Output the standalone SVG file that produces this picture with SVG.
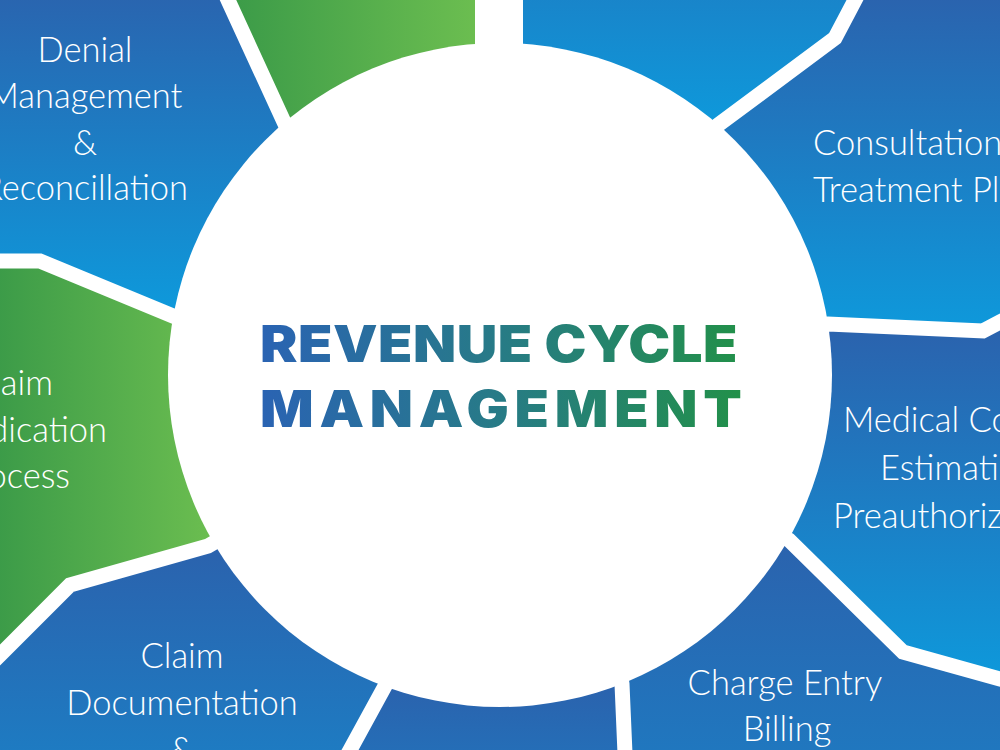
<svg xmlns="http://www.w3.org/2000/svg" width="1000" height="750" viewBox="0 0 1000 750">
<style>
.lbl{font-family:Lato,"Open Sans","Liberation Sans",sans-serif;font-weight:300;font-size:34.5px;fill:#ffffff}
.mid{text-anchor:middle}
.end{text-anchor:end}
.gap{fill:none;stroke:#ffffff;stroke-width:15;stroke-linejoin:miter}
.title{font-family:Inter,Roboto,Lato,"DejaVu Sans",sans-serif;font-weight:900;font-size:51px;fill:url(#gTitle)}
</style>
<defs>
<linearGradient id="gDen" gradientUnits="userSpaceOnUse" x1="0" y1="-20" x2="0" y2="310"><stop offset="0" stop-color="#2b62ad"/><stop offset="1" stop-color="#0e99db"/></linearGradient>
<linearGradient id="gTopBlue" gradientUnits="userSpaceOnUse" x1="0" y1="-220" x2="0" y2="125"><stop offset="0" stop-color="#2b62ad"/><stop offset="1" stop-color="#0e99db"/></linearGradient>
<linearGradient id="gCons" gradientUnits="userSpaceOnUse" x1="0" y1="-10" x2="0" y2="330"><stop offset="0" stop-color="#2b62ad"/><stop offset="1" stop-color="#0e99db"/></linearGradient>
<linearGradient id="gMed" gradientUnits="userSpaceOnUse" x1="0" y1="325" x2="0" y2="680"><stop offset="0" stop-color="#2b62ad"/><stop offset="1" stop-color="#0e99db"/></linearGradient>
<linearGradient id="gCharge" gradientUnits="userSpaceOnUse" x1="0" y1="535" x2="0" y2="1100"><stop offset="0" stop-color="#2b62ad"/><stop offset="1" stop-color="#0e99db"/></linearGradient>
<linearGradient id="gBottom" gradientUnits="userSpaceOnUse" x1="0" y1="683" x2="0" y2="1000"><stop offset="0" stop-color="#2b62ad"/><stop offset="1" stop-color="#0e99db"/></linearGradient>
<linearGradient id="gDoc" gradientUnits="userSpaceOnUse" x1="0" y1="545" x2="0" y2="1000"><stop offset="0" stop-color="#2b62ad"/><stop offset="1" stop-color="#0e99db"/></linearGradient>
<linearGradient id="gGreenTop" gradientUnits="userSpaceOnUse" x1="225" y1="0" x2="478" y2="0"><stop offset="0" stop-color="#3a9a48"/><stop offset="1" stop-color="#6cbe50"/></linearGradient>
<linearGradient id="gGreenAdj" gradientUnits="userSpaceOnUse" x1="-10" y1="0" x2="215" y2="0"><stop offset="0" stop-color="#3a9a48"/><stop offset="1" stop-color="#6cbe50"/></linearGradient>
<linearGradient id="gTitle" gradientUnits="userSpaceOnUse" x1="0" y1="0" x2="436" y2="0"><stop offset="0" stop-color="#2a63b3"/><stop offset="0.5" stop-color="#277b86"/><stop offset="1" stop-color="#22904a"/></linearGradient>
</defs>
<rect width="1000" height="750" fill="#ffffff"/>

<g id="seg-top-green"><polygon points="500,375 284,122 228,0 205,-50 500,-50" fill="url(#gGreenTop)"/></g>
<g id="seg-top-blue"><polygon points="500,375 500,-50 881,-50 855,0 835,38 718,125" fill="url(#gTopBlue)"/></g>
<g id="seg-consultation">
<polygon points="500,375 718,125 835,38 855,0 881,-50 1050,-50 1050,296 1000,322 983,331 828,324" fill="url(#gCons)"/>
<text class="lbl" x="813" y="155">Consultation</text>
<text class="lbl" x="813" y="202">Treatment Plan</text>
</g>
<g id="seg-medical-cost">
<polygon points="500,375 828,324 983,331 1000,322 1050,296 1050,693 1000,679 903,652 789,540" fill="url(#gMed)"/>
<text class="lbl" x="843" y="432">Medical Cost</text>
<text class="lbl" x="880" y="480">Estimation</text>
<text class="lbl" x="833" y="528">Preauthorization</text>
</g>
<g id="seg-charge-entry">
<polygon points="500,375 789,540 903,652 1000,679 1050,693 1050,800 627,800 622,684" fill="url(#gCharge)"/>
<text class="lbl mid" x="785" y="695">Charge Entry</text>
<text class="lbl mid" x="787" y="741">Billing</text>
</g>
<g id="seg-bottom"><polygon points="500,375 622,684 627,800 323,800 350,750 385,686" fill="url(#gBottom)"/></g>
<g id="seg-claim-documentation">
<polygon points="500,375 385,686 350,750 323,800 -50,800 -50,705 0,655 70,585 208,546" fill="url(#gDoc)"/>
<text class="lbl mid" x="182" y="668">Claim</text>
<text class="lbl mid" x="182" y="715">Documentation</text>
<text class="lbl mid" x="182" y="762">&amp;</text>
</g>
<g id="seg-claim-adjudication">
<polygon points="500,375 208,546 70,585 0,655 -50,705 -50,261 40,261 173,316" fill="url(#gGreenAdj)"/>
<text class="lbl end" x="53" y="395">Claim</text>
<text class="lbl end" x="107" y="442">Adjudication</text>
<text class="lbl end" x="70" y="488">Process</text>
</g>
<g id="seg-denial">
<polygon points="500,375 173,316 40,261 -50,261 -50,-50 205,-50 228,0 284,122" fill="url(#gDen)"/>
<text class="lbl mid" x="85" y="62">Denial</text>
<text class="lbl mid" x="85" y="108">Management</text>
<text class="lbl mid" x="85" y="155">&amp;</text>
<text class="lbl mid" x="85" y="200">Reconcillation</text>
</g>

<g id="gaps">
<rect x="475" y="-10" width="48" height="120" fill="#ffffff"/>
<polyline class="gap" points="700,146 718,125 835,38 855,0 881,-50"/>
<polyline class="gap" points="800,328 828,324 983,331 1000,322 1050,296"/>
<polyline class="gap" points="765,526 789,540 903,652 1000,679 1050,693"/>
<polyline class="gap" points="618,660 622,684 627,800"/>
<polyline class="gap" points="394,660 385,686 350,750 323,800"/>
<polyline class="gap" points="232,532 208,546 70,585 0,655 -50,705"/>
<polyline class="gap" points="200,327 173,316 40,261 -50,261"/>
<polyline class="gap" points="295,146 284,122 228,0 205,-50"/>
</g>

<g id="center">
<circle cx="500" cy="375" r="332" fill="#ffffff"/>
<g transform="translate(260,0) scale(1.1,1)">
<text class="title" x="0" y="362" textLength="434" lengthAdjust="spacing">REVENUE CYCLE</text>
<text class="title" x="0" y="427" textLength="438" lengthAdjust="spacing">MANAGEMENT</text>
</g>
</g>
</svg>
